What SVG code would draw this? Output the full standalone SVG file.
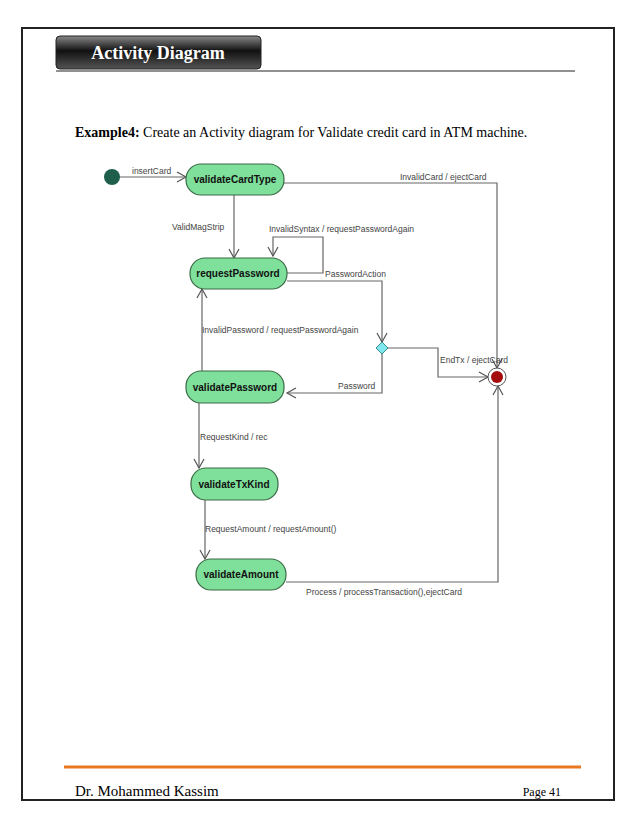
<svg xmlns="http://www.w3.org/2000/svg" width="638" height="826" viewBox="0 0 638 826">
<defs>
<linearGradient id="hg" x1="0" y1="0" x2="0" y2="1"><stop offset="0" stop-color="#888"/><stop offset="0.45" stop-color="#111"/><stop offset="1" stop-color="#555"/></linearGradient>
<marker id="ah" markerWidth="12" markerHeight="12" refX="10" refY="6" orient="auto" markerUnits="userSpaceOnUse"><path d="M1,1 L10,6 L1,11" fill="none" stroke="#555" stroke-width="1.2"/></marker>
</defs>
<style>
.n rect{fill:#7fe09c;stroke:#3a6b45;stroke-width:1.2}
.n text{font-family:"Liberation Sans",Arial,sans-serif;font-size:10px;font-weight:bold;fill:#111;text-anchor:middle}
.c path{fill:none;stroke:#666;stroke-width:1.2}
.l{font-family:"Liberation Sans",Arial,sans-serif;font-size:8.5px;fill:#444}
.t{font-family:"Liberation Serif","Times New Roman",serif}
</style>
<rect width="638" height="826" fill="#fff"/>
<rect x="22" y="28" width="592" height="772" fill="none" stroke="#222" stroke-width="2"/>
<rect x="56" y="36" width="205" height="33" rx="4" fill="url(#hg)" stroke="#222"/>
<text x="158" y="59" class="t" font-size="18" font-weight="bold" fill="#fff" text-anchor="middle">Activity Diagram</text>
<line x1="56" y1="71" x2="575" y2="71" stroke="#222"/>
<text x="75" y="137" class="t" font-size="14"><tspan font-weight="bold">Example4:</tspan> Create an Activity diagram for Validate credit card in ATM machine.</text>
<line x1="64" y1="767" x2="581" y2="767" stroke="#e87722" stroke-width="3"/>
<text x="75" y="796" class="t" font-size="15">Dr. Mohammed Kassim</text>
<text x="561" y="796" class="t" font-size="12" text-anchor="end">Page 41</text>

<g id="connectors" class="c">
<path d="M119,177 H186" marker-end="url(#ah)"/>
<path d="M234,195 V258" marker-end="url(#ah)"/>
<path d="M287,273 H323 V237 H273 V256" marker-end="url(#ah)"/>
<path d="M287,281 H382 V342" marker-end="url(#ah)"/>
<path d="M284,183 H497 V368" marker-end="url(#ah)"/>
<path d="M388,348 H438 V377 H488" marker-end="url(#ah)"/>
<path d="M382,354 V393 H287" marker-end="url(#ah)"/>
<path d="M202,371 V289" marker-end="url(#ah)"/>
<path d="M199,403 V468" marker-end="url(#ah)"/>
<path d="M205,500 V559" marker-end="url(#ah)"/>
<path d="M286,582 H498 V386" marker-end="url(#ah)"/>
</g>
<g id="labels">
<text class="l" x="132" y="174">insertCard</text>
<text class="l" x="400" y="180">InvalidCard / ejectCard</text>
<text class="l" x="172" y="230">ValidMagStrip</text>
<text class="l" x="269" y="232">InvalidSyntax / requestPasswordAgain</text>
<text class="l" x="325" y="277">PasswordAction</text>
<text class="l" x="202" y="333">InvalidPassword / requestPasswordAgain</text>
<text class="l" x="440" y="363">EndTx / ejectCard</text>
<text class="l" x="338" y="389">Password</text>
<text class="l" x="200" y="440">RequestKind / rec</text>
<text class="l" x="205" y="532">RequestAmount / requestAmount()</text>
<text class="l" x="306" y="595">Process / processTransaction(),ejectCard</text>
</g>
<g id="initial"><circle cx="112" cy="177" r="8" fill="#1e5e4a"/></g>
<g id="validateCardType" class="n"><rect x="186" y="164" width="98" height="31" rx="15"/><text x="235" y="183">validateCardType</text></g>
<g id="requestPassword" class="n"><rect x="190" y="258" width="97" height="31" rx="15"/><text x="238" y="277">requestPassword</text></g>
<g id="decision"><path d="M382,342 L388,348 L382,354 L376,348 Z" fill="#7fe8ee" stroke="#3a8a8e"/></g>
<g id="final"><circle cx="497" cy="377" r="9" fill="#fff" stroke="#555"/><circle cx="497" cy="377" r="6" fill="#a50d0d"/></g>
<g id="validatePassword" class="n"><rect x="186" y="371" width="98" height="32" rx="15"/><text x="235" y="391">validatePassword</text></g>
<g id="validateTxKind" class="n"><rect x="191" y="468" width="87" height="32" rx="15"/><text x="234" y="488">validateTxKind</text></g>
<g id="validateAmount" class="n"><rect x="196" y="559" width="90" height="31" rx="15"/><text x="241" y="578">validateAmount</text></g>
</svg>
